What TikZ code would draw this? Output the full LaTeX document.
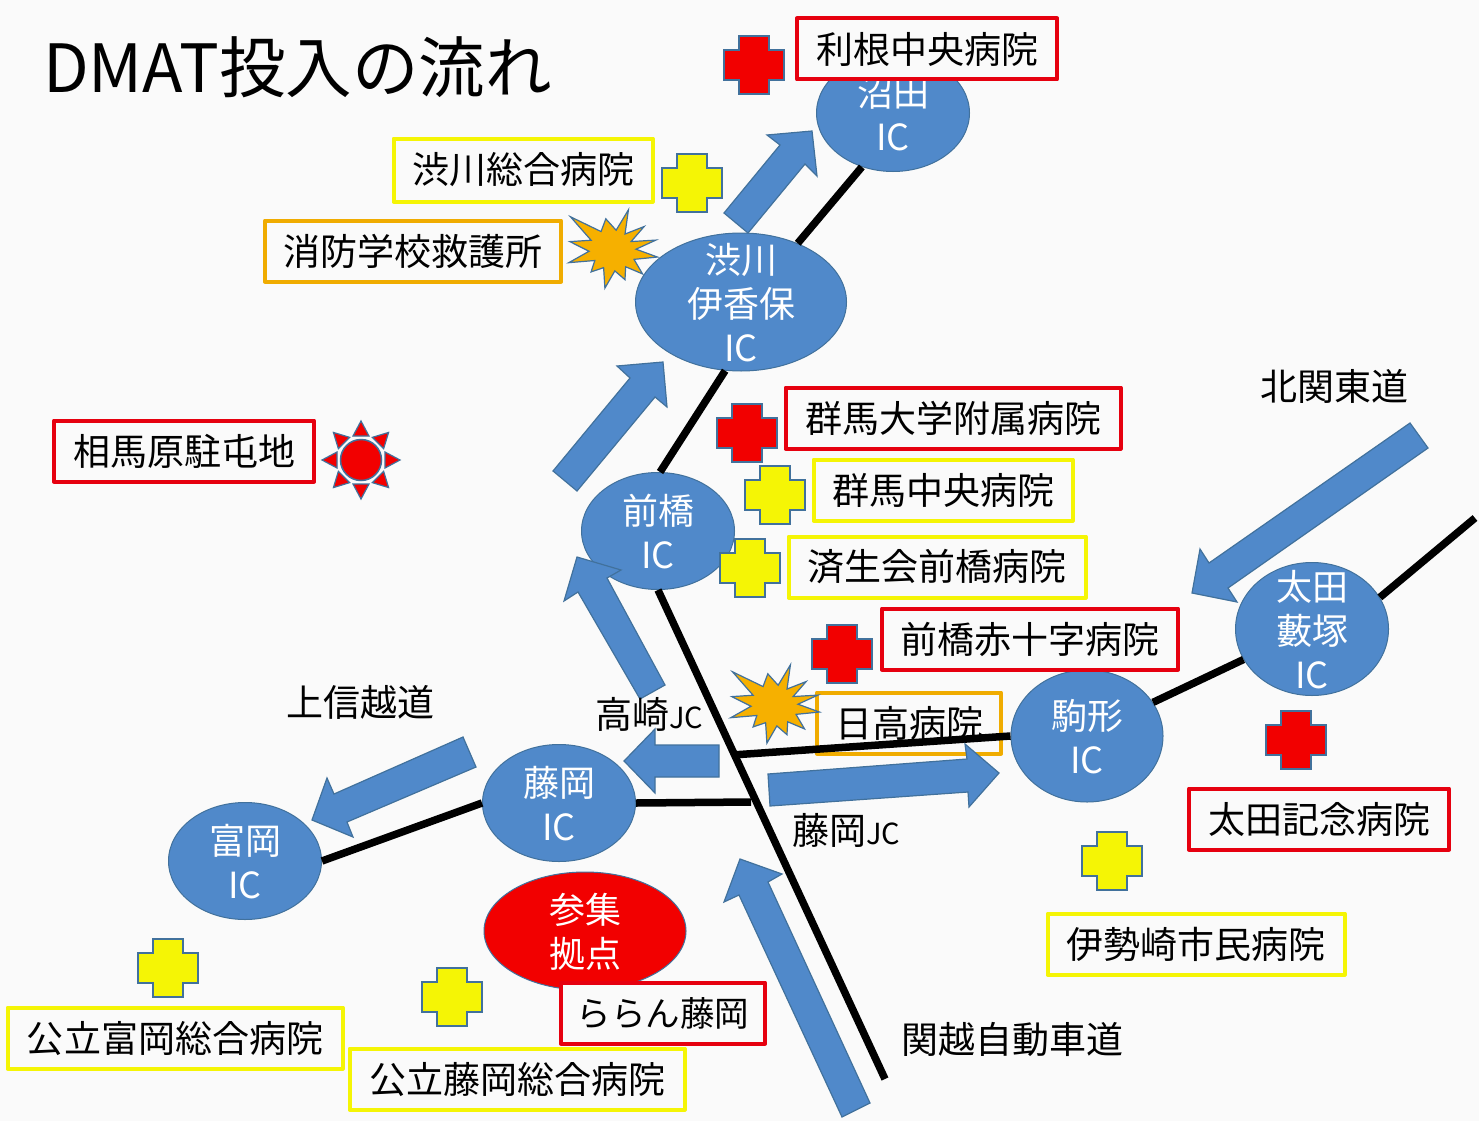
\documentclass[tikz,border=0pt]{standalone}
\usepackage{fontspec}
\setmainfont{Noto Sans CJK JP}
\usetikzlibrary{shapes.geometric}
\definecolor{bgpage}{HTML}{FAFAFA}
\definecolor{icblue}{HTML}{5089CA}
\definecolor{icedge}{HTML}{41719C}
\definecolor{hospyellow}{HTML}{F5F505}
\definecolor{boxorange}{HTML}{F0AC00}
\definecolor{burstorange}{HTML}{F6B000}
\definecolor{hospred}{HTML}{F20000}
\definecolor{boxred}{HTML}{E6000F}
\newcommand{\crossmark}[3]{\draw[#3,draw=icedge,line width=1.2pt] (#1-30,#2-15) -- (#1-15,#2-15) -- (#1-15,#2-29) -- (#1+15,#2-29) -- (#1+15,#2-15) -- (#1+30,#2-15) -- (#1+30,#2+15) -- (#1+15,#2+15) -- (#1+15,#2+29) -- (#1-15,#2+29) -- (#1-15,#2+15) -- (#1-30,#2+15) -- cycle;}
\newcommand{\burst}[2]{\draw[shift={(#1,#2)},fill=burstorange,draw=icedge,line width=1.2pt] (-69:43) -- (-53:20) -- (-37:39) -- (-25:20) -- (-13:44) -- (-2:23) -- (9:45) -- (24:23) -- (39:38) -- (53:21) -- (68:32) -- (85:21) -- (102:39) -- (118:20) -- (135:31) -- (150:21) -- (164:46) -- (177:24) -- (191:44) -- (204:24) -- (218:54) -- (237:22) -- (257:32) -- (279:20) -- cycle;}
\newcommand{\jc}{{\fontsize{29}{44}\selectfont JC}}
\begin{document}
\begin{tikzpicture}[x=1pt,y=-1pt]
    \tikzset{ic/.style={ellipse,draw=icedge,line width=1pt,fill=icblue,inner sep=0pt},
        ictext/.style={text=white,align=center,inner sep=0pt,yshift=-1pt,font=\fontsize{36}{44}\selectfont},
        road/.style={line width=7.5pt,black},
        flow/.style={fill=icblue,draw=icedge,line width=1.2pt},
        hosp/.style={draw,line width=4pt,line join=round,fill=bgpage,inner sep=0pt,minimum height=61pt,font=\fontsize{37}{44}\selectfont},
        redbox/.style={hosp,draw=boxred},
        yellowbox/.style={hosp,draw=hospyellow},
        orangebox/.style={hosp,draw=boxorange},
        plain/.style={font=\fontsize{37}{44}\selectfont,inner sep=0pt}}
    \useasboundingbox (0,0) rectangle (1479,1121);
    \fill[bgpage] (0,0) rectangle (1479,1121);

    \node[anchor=west,inner sep=0pt,font=\fontsize{66.5}{70}\selectfont] (title) at (43,67) {DMAT投入の流れ};

    \coordinate (kanetsuS) at (885,1079);
    \coordinate (joshinE) at (751,802);
    \coordinate (kitaE) at (1475,518);
    \coordinate (fujiokaJC) at (732,755);

    \node[ic,minimum width=153pt,minimum height=117pt,label={[ictext]center:沼田\\IC}] (numata) at (893,113) {};
    \node[ic,minimum width=211pt,minimum height=138pt,label={[ictext]center:渋川\\伊香保\\IC}] (shibukawa) at (741,302) {};
    \node[ic,minimum width=153pt,minimum height=117pt,label={[ictext]center:前橋\\IC}] (maebashi) at (658,531) {};
    \node[ic,minimum width=152pt,minimum height=132pt,label={[ictext]center:駒形\\IC}] (komagata) at (1087,736) {};
    \node[ic,minimum width=153pt,minimum height=133pt,label={[ictext]center:太田\\藪塚\\IC}] (ota) at (1312,629) {};
    \node[ic,minimum width=153pt,minimum height=117pt,label={[ictext]center:藤岡\\IC}] (fujioka) at (559,803) {};
    \node[ic,minimum width=153pt,minimum height=117pt,label={[ictext]center:富岡\\IC}] (tomioka) at (245,861) {};
    \node[ic,fill=hospred,minimum width=202pt,minimum height=118pt,label={[ictext]center:参集\\拠点}] (sanshu) at (585,931) {};

    \node[redbox,minimum width=260pt] (tone) at (927,49) {利根中央病院};
    \node[yellowbox,minimum width=259pt,minimum height=63pt] (shibusogo) at (523,170) {渋川総合病院};
    \node[orangebox,minimum width=296pt] (shobo) at (413,251) {消防学校救護所};
    \node[redbox,minimum width=260pt] (soma) at (184,451) {相馬原駐屯地};
    \node[redbox,minimum width=335pt] (gundai) at (953,418) {群馬大学附属病院};
    \node[yellowbox,minimum width=259pt] (gunchu) at (943,490) {群馬中央病院};
    \node[yellowbox,minimum width=297pt] (saisei) at (937,567) {済生会前橋病院};
    \node[redbox,minimum width=296pt] (sekijuji) at (1030,639) {前橋赤十字病院};
    \node[orangebox,minimum width=184pt] (hidaka) at (909,723) {日高病院};
    \node[redbox,minimum width=260pt] (otakinen) at (1319,819) {太田記念病院};
    \node[yellowbox,minimum width=297pt] (isesaki) at (1196,944) {伊勢崎市民病院};
    \node[redbox,minimum width=204pt] (raran) at (663,1013) {\fontsize{34.5}{44}\selectfont ららん藤岡};
    \node[yellowbox,minimum width=335pt] (kotomi) at (175,1038) {公立富岡総合病院};
    \node[yellowbox,minimum width=335pt] (kofuji) at (517,1079) {公立藤岡総合病院};

    \draw[road] (numata.-120.6) -- (shibukawa.46.5);
    \draw[road] (shibukawa.-103) -- (maebashi.88);
    \draw[road] (maebashi.south) -- (kanetsuS);
    \draw[road] (fujiokaJC) -- (komagata.west);
    \draw[road] (komagata.27) -- (ota.-156.6);
    \draw[road] (ota.25.5) -- (kitaE);
    \draw[road] (joshinE) -- (fujioka.east);
    \draw[road] (fujioka.west) -- (tomioka.east);

    \draw[flow] (553,471) -- (630,378) -- (617,366) -- (663,362) -- (667,407) -- (655,397) -- (577,491) -- cycle;
    \draw[flow] (665,685) -- (607,578) -- (621,570) -- (577,557) -- (564,601) -- (578,592) -- (640,699) -- cycle;
    \draw[flow] (870,1103) -- (768,882) -- (782,874) -- (740,859) -- (724,902) -- (739,895) -- (842,1117) -- cycle;
    \draw[flow] (1410,423) -- (1209,563) -- (1200,549) -- (1192,593) -- (1237,602) -- (1228,588) -- (1428,448) -- cycle;
    \draw[flow] (724,213) -- (780,145) -- (767,135) -- (812,131) -- (817,176) -- (805,164) -- (748,233) -- cycle;
    \draw[flow] (463,737) -- (334,794) -- (327,778) -- (312,820) -- (353,837) -- (347,822) -- (476,767) -- cycle;
    \draw[flow] (768,774) -- (967,759) -- (965,744) -- (999,773) -- (969,807) -- (968,792) -- (770,806) -- cycle;
    \draw[flow] (719,745) -- (655,745) -- (655,729) -- (624,761) -- (655,793) -- (655,777) -- (719,777) -- cycle;

    \crossmark{754}{65}{fill=hospred}
    \crossmark{692}{183}{fill=hospyellow}
    \crossmark{747}{433}{fill=hospred}
    \crossmark{775}{495}{fill=hospyellow}
    \crossmark{750}{568}{fill=hospyellow}
    \crossmark{842}{654}{fill=hospred}
    \crossmark{1296}{740}{fill=hospred}
    \crossmark{1112}{861}{fill=hospyellow}
    \crossmark{168}{968}{fill=hospyellow}
    \crossmark{452}{997}{fill=hospyellow}

    \burst{613}{250}
    \burst{775}{705}

    \foreach \a in {0,45,...,315}
        \draw[fill=hospred,draw=icedge,line width=1.2pt,rotate around={\a:(361,460)}] (353,436) -- (361,421) -- (369,436) -- cycle;
    \draw[fill=hospred,draw=icedge,line width=1.5pt] (361,460) circle (20.5);

    \node[plain] (kitakanto) at (1334,386) {北関東道};
    \node[plain] (joshinetsu) at (360,702) {上信越道};
    \node[plain] (takasaki) at (649,714) {高崎\jc};
    \node[plain] (fujiokajc) at (846,830) {藤岡\jc};
    \node[plain] (kanetsu) at (1012,1039) {関越自動車道};
\end{tikzpicture}
\end{document}
